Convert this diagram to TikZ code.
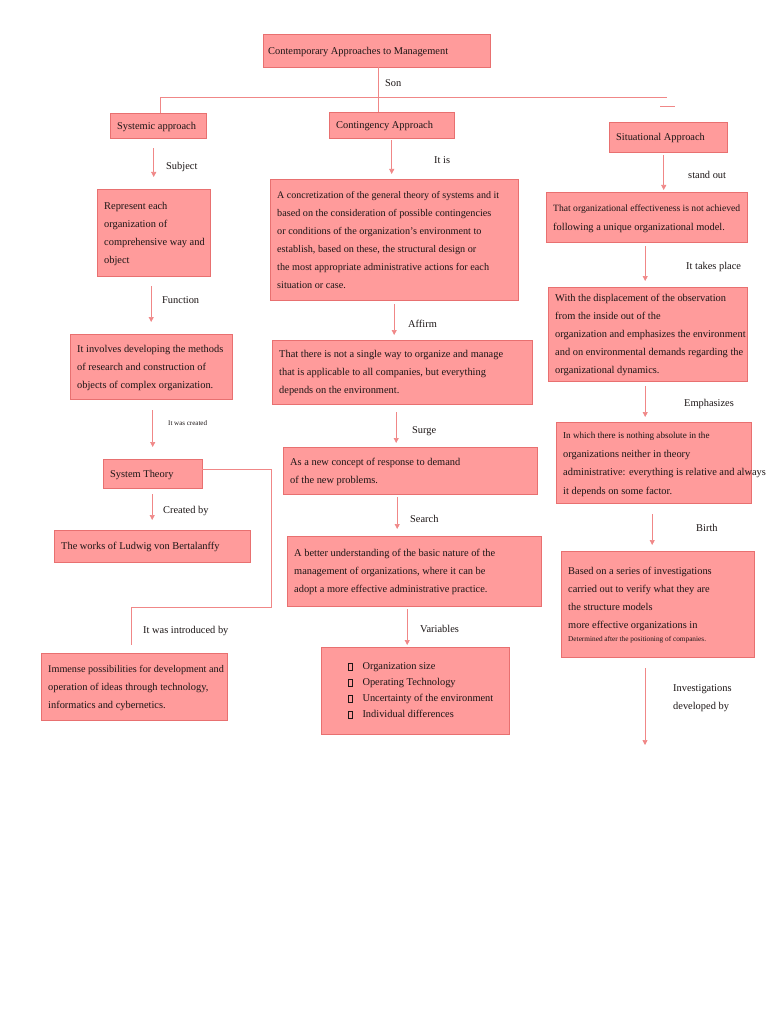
\documentclass[tikz,border=0pt]{standalone}
\usepackage{fontspec}
\setmainfont{Liberation Serif}
\usetikzlibrary{arrows.meta,positioning}

\definecolor{boxfill}{RGB}{255,155,155}
\definecolor{boxline}{RGB}{232,112,112}
\definecolor{linkcol}{RGB}{240,135,135}
\definecolor{inkcol}{RGB}{28,22,22}
\newcommand\mapfont{\fontsize{10.4}{18}\selectfont}
\newcommand\notefont{\fontsize{7}{9}\selectfont}
\newcommand\fsz[1]{\fontsize{#1}{18}\selectfont}
\newcommand\tofu{{\setlength\fboxsep{0pt}\setlength\fboxrule{0.4pt}\fbox{\rule{0pt}{6.5pt}\hspace{3.5pt}}}}
% fixed-width text block, lines may run past the right edge
\newcommand\lines[2]{\makebox[#1][l]{\begin{tabular}{@{}l@{}}#2\end{tabular}}}

\begin{document}
\begin{tikzpicture}[
  x=1pt, y=-1pt,
  box/.style={draw=boxline, fill=boxfill, anchor=north west, inner xsep=7pt, inner ysep=0pt, text=inkcol, font=\mapfont},
  lbl/.style={anchor=west, inner sep=0pt, text=inkcol, font=\mapfont},
  link/.style={draw=linkcol, line width=0.7pt},
  arrow/.style={link, -{Triangle[length=5pt,width=5pt]}, shorten <=5pt, shorten >=5pt}
]
\fill[white] (0,0) rectangle (768,1024);
\useasboundingbox (0,0) rectangle (768,1024);

\node[box, inner xsep=5pt, minimum height=33pt] (title) at (263,34) {\lines{217pt}{Contemporary Approaches to Management}};

\node[box, minimum height=25pt] (sys) at (110,113) {\lines{82pt}{Systemic approach}};
\node[box, minimum height=26pt] (cont) at (329,112) {\lines{111pt}{Contingency Approach}};
\node[box, minimum height=30pt] (sit) at (609,122) {\lines{104pt}{Situational Approach}};

% left column
\node[box, minimum height=87pt] (rep) at (97,189)
  {\lines{99pt}{Represent each\\organization of\\comprehensive way and\\object}};
\node[box, minimum height=65pt] (inv) at (70,334)
  {\lines{148pt}{It involves developing the methods\\of research and construction of\\objects of complex organization.}};
\node[box, minimum height=29pt] (systh) at (103,459) {\lines{85pt}{System Theory}};
\node[box, minimum height=32pt] (works) at (54,530) {\lines{182pt}{The works of Ludwig von Bertalanffy}};
\node[box, minimum height=67pt] (imm) at (41,653)
  {\lines{172pt}{{\fsz{10.2}Immense possibilities for development and}\\operation of ideas through technology,\\informatics and cybernetics.}};

% middle column
\node[box, minimum height=121pt, font=\fsz{10.2}] (conc) at (270,179)
  {\lines{234pt}{{\fsz{10}A concretization of the general theory of systems and it}\\based on the consideration of possible contingencies\\or conditions of the organization's environment to\\establish, based on these, the structural design or\\the most appropriate administrative actions for each\\situation or case.}};
\node[box, minimum height=64pt] (affirm) at (272,340)
  {\lines{246pt}{That there is not a single way to organize and manage\\that is applicable to all companies, but everything\\depends on the environment.}};
\node[box, minimum height=47pt] (surge) at (283,447)
  {\lines{240pt}{As a new concept of response to demand\\of the new problems.}};
\node[box, minimum height=70pt] (better) at (287,536)
  {\lines{240pt}{A better understanding of the basic nature of the\\management of organizations, where it can be\\adopt a more effective administrative practice.}};
\node[box, minimum height=87pt, font=\fontsize{10.4}{16}\selectfont] (vars) at (321,647)
  {\lines{174pt}{\hspace*{20pt}\tofu\hspace{10pt}Organization size\\
   \hspace*{20pt}\tofu\hspace{10pt}Operating Technology\\
   \hspace*{20pt}\tofu\hspace{10pt}Uncertainty of the environment\\
   \hspace*{20pt}\tofu\hspace{10pt}Individual differences}};

% right column
\node[box, minimum height=50pt, font=\fontsize{10.4}{19}\selectfont] (eff) at (546,192)
  {\lines{187pt}{{\fsz{9.6}That organizational effectiveness is not achieved}\\following a unique organizational model.}};
\node[box, minimum height=94pt] (disp) at (548,287)
  {\lines{185pt}{With the displacement of the observation\\from the inside out of the\\organization and emphasizes the environment\\and on environmental demands regarding the\\organizational dynamics.}};
\node[box, minimum height=81pt, font=\fontsize{10.4}{18.7}\selectfont] (nothing) at (556,422)
  {\lines{181pt}{{\fsz{9.1}In which there is nothing absolute in the}\\organizations neither in theory\\administrative: everything is relative and always\\it depends on some factor.}};
\node[box, minimum height=106pt] (based) at (561,551)
  {\lines{179pt}{Based on a series of investigations\\carried out to verify what they are\\the structure models\\more effective organizations in\\[-5pt]{\fontsize{7.3}{9}\selectfont Determined after the positioning of companies.}}};

% labels
\node[lbl] (lSon) at (385,83) {Son};
\node[lbl] (lSubject) at (166,167) {Subject};
\node[lbl] (lFunction) at (162,300) {Function};
\node[lbl, font=\notefont] (lCreated) at (168,423) {It was created};
\node[lbl] (lCreatedBy) at (163,511) {Created by};
\node[lbl] (lIntro) at (143,631) {It was introduced by};
\node[lbl] (lItIs) at (434,160) {It is};
\node[lbl] (lAffirm) at (408,324) {Affirm};
\node[lbl] (lSurge) at (412,431) {Surge};
\node[lbl] (lSearch) at (410,519) {Search};
\node[lbl] (lVariables) at (420,629) {Variables};
\node[lbl] (lStand) at (688,175) {stand out};
\node[lbl] (lPlace) at (686,267) {It takes place};
\node[lbl] (lEmph) at (684,404) {Emphasizes};
\node[lbl] (lBirth) at (696,528) {Birth};
\node[lbl, align=left] (lInvest) at (673,698) {Investigations\\developed by};

% branch lines
\coordinate (branchEnd) at (667,97);
\coordinate (tickL) at (660,106);
\coordinate (tickR) at (675,106);
\coordinate (introCorner) at (271,607);
\coordinate (introEnd) at (131,645);
\coordinate (invEnd) at (645,745);
\draw[link] ([xshift=1.5pt]title.south) -- ([xshift=1.5pt]title.south |- cont.north);
\draw[link] ([xshift=2pt]sys.north) |- (branchEnd);
\draw[link] (tickL) -- (tickR);
\draw[link] ([yshift=4pt]systh.east) -| (introCorner) -| (introEnd);

% arrows
\draw[arrow, shorten <=10pt, shorten >=12pt] (rep.north |- sys.south) -- (rep.north);
\draw[arrow, shorten <=10pt, shorten >=12pt] (inv.north |- rep.south) -- (inv.north);
\draw[arrow, shorten <=11pt, shorten >=12pt] (systh.north |- inv.south) -- (systh.north);
\draw[arrow, shorten <=6pt, shorten >=10pt] (works.north |- systh.south) -- (works.north);

\draw[arrow, shorten <=2pt, shorten >=5pt] (cont.south) -- (cont.south |- conc.north);
\draw[arrow, shorten <=4pt, shorten >=5pt] (conc.south) -- (conc.south |- affirm.north);
\draw[arrow, shorten <=8pt, shorten >=4pt] ([xshift=-6pt]affirm.south) -- ([xshift=-6pt]affirm.south |- surge.north);
\draw[arrow, shorten <=3pt, shorten >=7pt] ([xshift=-13pt]surge.south) -- ([xshift=-13pt]surge.south |- better.north);
\draw[arrow, shorten <=3pt, shorten >=2pt] ([xshift=-7pt]better.south) -- ([xshift=-7pt]better.south |- vars.north);

\draw[arrow, shorten <=3pt, shorten >=2pt] ([xshift=-4.5pt]sit.south) -- ([xshift=-4.5pt]sit.south |- eff.north);
\draw[arrow, shorten <=4pt, shorten >=6pt] ([xshift=-1.5pt]eff.south) -- ([xshift=-1.5pt]eff.south |- disp.north);
\draw[arrow, shorten <=5pt, shorten >=5pt] ([xshift=-2.5pt]disp.south) -- ([xshift=-2.5pt]disp.south |- nothing.north);
\draw[arrow, shorten <=11pt, shorten >=6pt] ([xshift=-1.5pt]nothing.south) -- ([xshift=-1.5pt]nothing.south |- based.north);
\draw[arrow, shorten <=11pt, shorten >=0pt] (invEnd |- based.south) -- (invEnd);

\end{tikzpicture}
\end{document}
